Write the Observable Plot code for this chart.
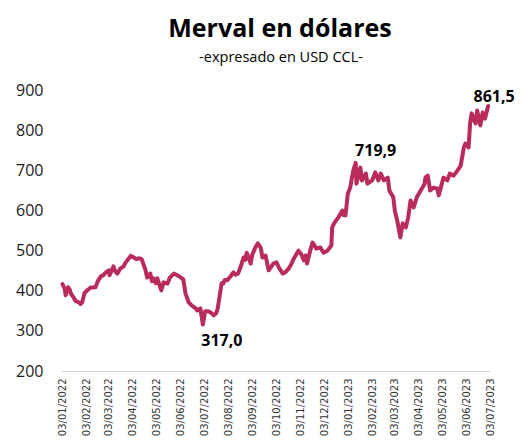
<!DOCTYPE html>
<html>
<head>
<meta charset="utf-8">
<script src="https://cdn.jsdelivr.net/npm/d3@7"></script>
<script src="https://cdn.jsdelivr.net/npm/@observablehq/plot@0.6"></script>
<style>
  body { margin: 0; background: #fff; }
  #head { position: relative; width: 523px; height: 70px; }
  #title { position: absolute; left: 0; top: 15px; width: 560px; text-align: center;
           font: 700 25px/25px "Open Sans", sans-serif; color: #000; white-space: nowrap; }
  #subtitle { position: absolute; left: 0; top: 50px; width: 562px; text-align: center;
              font: 400 14.5px/14.5px "Open Sans", sans-serif; color: #000; white-space: nowrap; }
  #chart svg { display: block; }
</style>
</head>
<body>
<div id="head">
  <div id="title">Merval en dólares</div>
  <div id="subtitle">-expresado en USD CCL-</div>
</div>
<div id="chart"></div>
<script>
const dates = [
  "2022-01-03","2022-01-06","2022-01-07","2022-01-10","2022-01-12","2022-01-14","2022-01-17","2022-01-20","2022-01-24","2022-01-26",
  "2022-01-28","2022-01-31","2022-02-04","2022-02-08","2022-02-14","2022-02-17","2022-02-21","2022-02-24","2022-02-28","2022-03-03",
  "2022-03-04","2022-03-09","2022-03-11","2022-03-14","2022-03-18","2022-03-22","2022-03-24","2022-03-28","2022-03-31","2022-04-04",
  "2022-04-07","2022-04-11","2022-04-14","2022-04-19","2022-04-21","2022-04-25","2022-04-27","2022-04-29","2022-05-02","2022-05-04",
  "2022-05-09","2022-05-12","2022-05-17","2022-05-20","2022-05-25","2022-05-30","2022-06-03","2022-06-06","2022-06-09","2022-06-13",
  "2022-06-17","2022-06-22","2022-06-24","2022-06-28","2022-07-01","2022-07-04","2022-07-08","2022-07-11","2022-07-15","2022-07-18",
  "2022-07-20","2022-07-25","2022-07-27","2022-07-29","2022-08-01","2022-08-05","2022-08-09","2022-08-12","2022-08-15","2022-08-18",
  "2022-08-22","2022-08-24","2022-08-26","2022-08-31","2022-09-02","2022-09-06","2022-09-09","2022-09-13","2022-09-15","2022-09-19",
  "2022-09-23","2022-09-26","2022-09-29","2022-10-03","2022-10-06","2022-10-11","2022-10-14","2022-10-18","2022-10-21","2022-10-25",
  "2022-10-31","2022-11-03","2022-11-07","2022-11-09","2022-11-11","2022-11-15","2022-11-18","2022-11-23","2022-11-28","2022-12-02",
  "2022-12-07","2022-12-12","2022-12-13","2022-12-16","2022-12-21","2022-12-26","2022-12-27","2022-12-30","2023-01-02","2023-01-05",
  "2023-01-09","2023-01-12","2023-01-13","2023-01-18","2023-01-20","2023-01-25","2023-01-27","2023-02-02","2023-02-06","2023-02-10",
  "2023-02-13","2023-02-17","2023-02-22","2023-02-24","2023-03-01","2023-03-03","2023-03-06","2023-03-10","2023-03-13","2023-03-17",
  "2023-03-20","2023-03-23","2023-03-27","2023-03-31","2023-04-05","2023-04-10","2023-04-11","2023-04-14","2023-04-17","2023-04-21",
  "2023-04-26","2023-04-28","2023-05-04","2023-05-09","2023-05-12","2023-05-17","2023-05-22","2023-05-26","2023-05-30","2023-06-01",
  "2023-06-05","2023-06-07","2023-06-09","2023-06-14","2023-06-16","2023-06-20","2023-06-23","2023-06-26","2023-06-30"
];
const values = [
  418, 405, 390, 410, 405, 393, 385, 375, 372, 368,
  372, 395, 403, 409, 410, 425, 437, 440, 448, 452,
  440, 462, 450, 444, 457, 462, 470, 480, 488, 484,
  480, 482, 480, 452, 434, 444, 425, 432, 420, 432,
  402, 422, 419, 434, 444, 439, 434, 430, 394, 372,
  364, 357, 352, 357, 317, 350, 350, 347, 340, 345,
  357, 420, 419, 428, 427, 436, 447, 441, 444, 459,
  484, 478, 496, 469, 490, 509, 519, 508, 484, 489,
  452, 460, 469, 472, 459, 444, 447, 455, 464, 481,
  501, 494, 477, 489, 469, 501, 521, 506, 509, 496,
  501, 514, 559, 571, 584, 601, 590, 589, 643, 658,
  701, 719.9, 668, 708, 676, 693, 668, 676, 696, 676,
  693, 676, 683, 651, 634, 600, 576, 534, 569, 559,
  584, 626, 609, 634, 651, 668, 683, 688, 651, 658,
  656, 639, 683, 676, 693, 688, 701, 713, 758, 768,
  758, 818, 843, 818, 850, 813, 845, 830, 861.5
];
const xTicks = [
  "2022-01-03","2022-02-03","2022-03-03","2022-04-03","2022-05-03","2022-06-03","2022-07-03",
  "2022-08-03","2022-09-03","2022-10-03","2022-11-03","2022-12-03","2023-01-03","2023-02-03",
  "2023-03-03","2023-04-03","2023-05-03","2023-06-03","2023-07-03"
];
const yTicks = [200, 300, 400, 500, 600, 700, 800, 900];
const annotDates = ["2022-07-01", "2023-01-12", "2023-06-30"];
const annotValues = [317.0, 719.9, 861.5];
const annotLabels = ["317,0", "719,9", "861,5"];

const data = dates.map((d, i) => ({date: new Date(d), value: values[i]}));
const annots = annotDates.map((d, i) => ({date: new Date(d), value: annotValues[i], label: annotLabels[i]}));
const fmt = d3.utcFormat("%d/%m/%Y");

const annotStyle = {fontSize: 16, fontWeight: "bold", fontFamily: "Open Sans", fill: "#000", letterSpacing: "0.4px"};

const chart = Plot.plot({
  width: 523,
  height: 375,
  marginTop: 20,
  marginBottom: 74,
  marginLeft: 62,
  marginRight: 33,
  style: {fontFamily: "DejaVu Sans", color: "#1a1a1a", background: "#fff", overflow: "visible"},
  x: {type: "utc", domain: [new Date("2022-01-03"), new Date("2023-07-03")]},
  y: {domain: [200, 900]},
  marks: [
    Plot.ruleY([200], {stroke: "#d0d0d0", strokeWidth: 1}),
    Plot.axisY({ticks: yTicks, tickSize: 0, tickPadding: 19, fontSize: 16, fontFamily: "Open Sans", label: null}),
    Plot.axisX({ticks: xTicks.map(d => new Date(d)), tickFormat: fmt, tickRotate: -90, tickSize: 0, tickPadding: 7, fontSize: 10, fontFamily: "DejaVu Sans", fill: "#333", label: null}),
    Plot.line(data, {x: "date", y: "value", stroke: "#b82b5b", strokeWidth: 4, strokeLinejoin: "round", strokeLinecap: "round"}),
    Plot.text(annots.filter((d, i) => i === 0), {x: "date", y: "value", text: "label", dx: 19, dy: 16, ...annotStyle}),
    Plot.text(annots.filter((d, i) => i === 1), {x: "date", y: "value", text: "label", dx: 20, dy: -12, ...annotStyle}),
    Plot.text(annots.filter((d, i) => i === 2), {x: "date", y: "value", text: "label", dx: 6, dy: -9, ...annotStyle})
  ]
});
document.getElementById("chart").appendChild(chart);
</script>
</body>
</html>
